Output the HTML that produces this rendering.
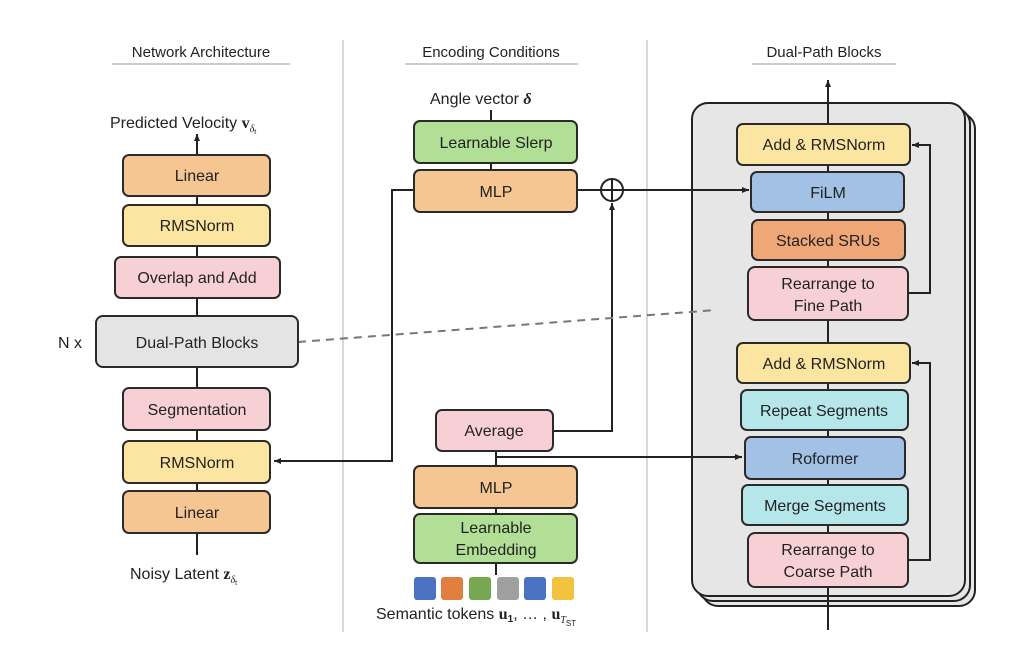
<!DOCTYPE html>
<html><head><meta charset="utf-8"><style>
html,body{margin:0;padding:0;background:#fff;}
svg{display:block;}
text{font-family:"Liberation Sans",sans-serif;fill:#222;}
</style></head><body>
<svg width="1024" height="656" viewBox="0 0 1024 656" xmlns="http://www.w3.org/2000/svg">
<defs>
<marker id="ar" markerWidth="8" markerHeight="8" refX="7" refY="4" orient="auto" markerUnits="userSpaceOnUse">
<path d="M0,1 L7,4 L0,7 z" fill="#222"/></marker>
</defs>
<!-- dividers -->
<line x1="343" y1="40" x2="343" y2="632" stroke="#ccc" stroke-width="1.5"/>
<line x1="647" y1="40" x2="647" y2="632" stroke="#ccc" stroke-width="1.5"/>
<!-- titles -->
<g font-size="15" text-anchor="middle">
<text x="201" y="57">Network Architecture</text>
<text x="491" y="57">Encoding Conditions</text>
<text x="824" y="57">Dual-Path Blocks</text>
</g>
<g stroke="#bbb" stroke-width="1.5">
<line x1="112" y1="64" x2="290" y2="64"/>
<line x1="405" y1="64" x2="578" y2="64"/>
<line x1="752" y1="64" x2="896" y2="64"/>
</g>

<!-- right stacked card -->
<rect x="702" y="113" width="273" height="493" rx="16" fill="#e6e6e6" stroke="#222" stroke-width="2"/>
<rect x="697" y="108" width="273" height="493" rx="16" fill="#e6e6e6" stroke="#222" stroke-width="2"/>
<rect x="692" y="103" width="273" height="493" rx="16" fill="#e6e6e6" stroke="#222" stroke-width="2"/>

<!-- lines -->
<g stroke="#222" stroke-width="2" fill="none">
<!-- left column -->
<line x1="197" y1="555" x2="197" y2="155"/>
<line x1="197" y1="155" x2="197" y2="134" marker-end="url(#ar)"/>
<!-- middle -->
<line x1="491" y1="110" x2="491" y2="170"/>
<line x1="496" y1="452" x2="496" y2="575"/>
<polyline points="414,190 392,190 392,461 274,461" marker-end="url(#ar)"/>
<line x1="577" y1="190" x2="601" y2="190"/>
<line x1="623" y1="190" x2="749" y2="190" marker-end="url(#ar)"/>
<polyline points="553,431 612,431 612,203" marker-end="url(#ar)"/>
<line x1="496" y1="457" x2="742" y2="457" marker-end="url(#ar)"/>
<!-- right -->
<line x1="828" y1="630" x2="828" y2="124"/>
<line x1="828" y1="124" x2="828" y2="80" marker-end="url(#ar)"/>
<polyline points="908,293 930,293 930,145 912,145" marker-end="url(#ar)"/>
<polyline points="908,560 930,560 930,363 912,363" marker-end="url(#ar)"/>
</g>
<line x1="298" y1="342" x2="716" y2="310" stroke="#777" stroke-width="2" stroke-dasharray="8,6"/>
<circle cx="612" cy="190" r="11" fill="#fff" stroke="#222" stroke-width="2"/>
<line x1="601" y1="190" x2="623" y2="190" stroke="#222" stroke-width="2"/>
<line x1="612" y1="179" x2="612" y2="201" stroke="#222" stroke-width="2"/>

<!-- boxes -->
<g stroke="#2a2a2a" stroke-width="2">
<rect x="123" y="155" width="147" height="41" rx="6" fill="#f5c592"/>
<rect x="123" y="205" width="147" height="41" rx="6" fill="#fbe5a0"/>
<rect x="115" y="257" width="165" height="41" rx="6" fill="#f7d0d6"/>
<rect x="96" y="316" width="202" height="51" rx="7" fill="#e4e4e4"/>
<rect x="123" y="388" width="147" height="42" rx="6" fill="#f7d0d6"/>
<rect x="123" y="441" width="147" height="42" rx="6" fill="#fbe5a0"/>
<rect x="123" y="491" width="147" height="42" rx="6" fill="#f5c592"/>

<rect x="414" y="121" width="163" height="42" rx="6" fill="#b2df96"/>
<rect x="414" y="170" width="163" height="42" rx="6" fill="#f5c592"/>
<rect x="436" y="410" width="117" height="41" rx="6" fill="#f7d0d6"/>
<rect x="414" y="466" width="163" height="42" rx="6" fill="#f5c592"/>
<rect x="414" y="514" width="163" height="49" rx="6" fill="#b2df96"/>

<rect x="737" y="124" width="173" height="41" rx="6" fill="#fbe5a0"/>
<rect x="751" y="172" width="153" height="40" rx="6" fill="#a2c1e4"/>
<rect x="752" y="220" width="153" height="40" rx="6" fill="#f0a777"/>
<rect x="748" y="267" width="160" height="53" rx="7" fill="#f7d0d6"/>
<rect x="737" y="343" width="173" height="40" rx="6" fill="#fbe5a0"/>
<rect x="741" y="390" width="167" height="40" rx="6" fill="#b5e6ea"/>
<rect x="745" y="437" width="160" height="42" rx="6" fill="#a2c1e4"/>
<rect x="742" y="485" width="166" height="40" rx="6" fill="#b5e6ea"/>
<rect x="748" y="533" width="160" height="54" rx="7" fill="#f7d0d6"/>
</g>

<!-- tokens -->
<g>
<rect x="414" y="577" width="22" height="23" rx="3" fill="#4a72c0"/>
<rect x="441" y="577" width="22" height="23" rx="3" fill="#e07f40"/>
<rect x="469" y="577" width="22" height="23" rx="3" fill="#77a850"/>
<rect x="497" y="577" width="22" height="23" rx="3" fill="#a0a0a0"/>
<rect x="524" y="577" width="22" height="23" rx="3" fill="#4a72c0"/>
<rect x="552" y="577" width="22" height="23" rx="3" fill="#f3c23e"/>
</g>

<!-- labels -->
<g font-size="16" text-anchor="middle">
<text x="197" y="181">Linear</text>
<text x="197" y="231">RMSNorm</text>
<text x="197" y="283">Overlap and Add</text>
<text x="197" y="348">Dual-Path Blocks</text>
<text x="197" y="415">Segmentation</text>
<text x="197" y="468">RMSNorm</text>
<text x="197" y="518">Linear</text>
<text x="496" y="148">Learnable Slerp</text>
<text x="496" y="197">MLP</text>
<text x="494" y="436">Average</text>
<text x="496" y="493">MLP</text>
<text x="496" y="533">Learnable</text>
<text x="496" y="555">Embedding</text>
<text x="824" y="150">Add &amp; RMSNorm</text>
<text x="828" y="198">FiLM</text>
<text x="828" y="246">Stacked SRUs</text>
<text x="828" y="289">Rearrange to</text>
<text x="828" y="311">Fine Path</text>
<text x="824" y="369">Add &amp; RMSNorm</text>
<text x="824" y="416">Repeat Segments</text>
<text x="825" y="464">Roformer</text>
<text x="825" y="511">Merge Segments</text>
<text x="828" y="555">Rearrange to</text>
<text x="828" y="577">Coarse Path</text>
</g>
<g font-size="16">
<text x="58" y="348">N x</text>
<text x="110" y="128">Predicted Velocity <tspan font-weight="bold" font-family="Liberation Serif">v</tspan><tspan font-size="10" dy="4" font-style="italic" font-family="Liberation Serif">δ</tspan><tspan font-size="7" dy="2">t</tspan></text>
<text x="130" y="579">Noisy Latent <tspan font-weight="bold" font-family="Liberation Serif">z</tspan><tspan font-size="10" dy="4" font-style="italic" font-family="Liberation Serif">δ</tspan><tspan font-size="7" dy="2">t</tspan></text>
<text x="430" y="104">Angle vector <tspan font-weight="bold" font-style="italic" font-family="Liberation Serif">δ</tspan></text>
<text x="376" y="619">Semantic tokens <tspan font-weight="bold" font-family="Liberation Serif">u</tspan><tspan font-size="10" dy="3" font-weight="bold">1</tspan><tspan dy="-3">, … , </tspan><tspan font-weight="bold" font-family="Liberation Serif">u</tspan><tspan font-size="10" dy="4" font-style="italic" font-family="Liberation Serif">T</tspan><tspan font-size="8" dy="3">ST</tspan></text>
</g>
</svg>
</body></html>
